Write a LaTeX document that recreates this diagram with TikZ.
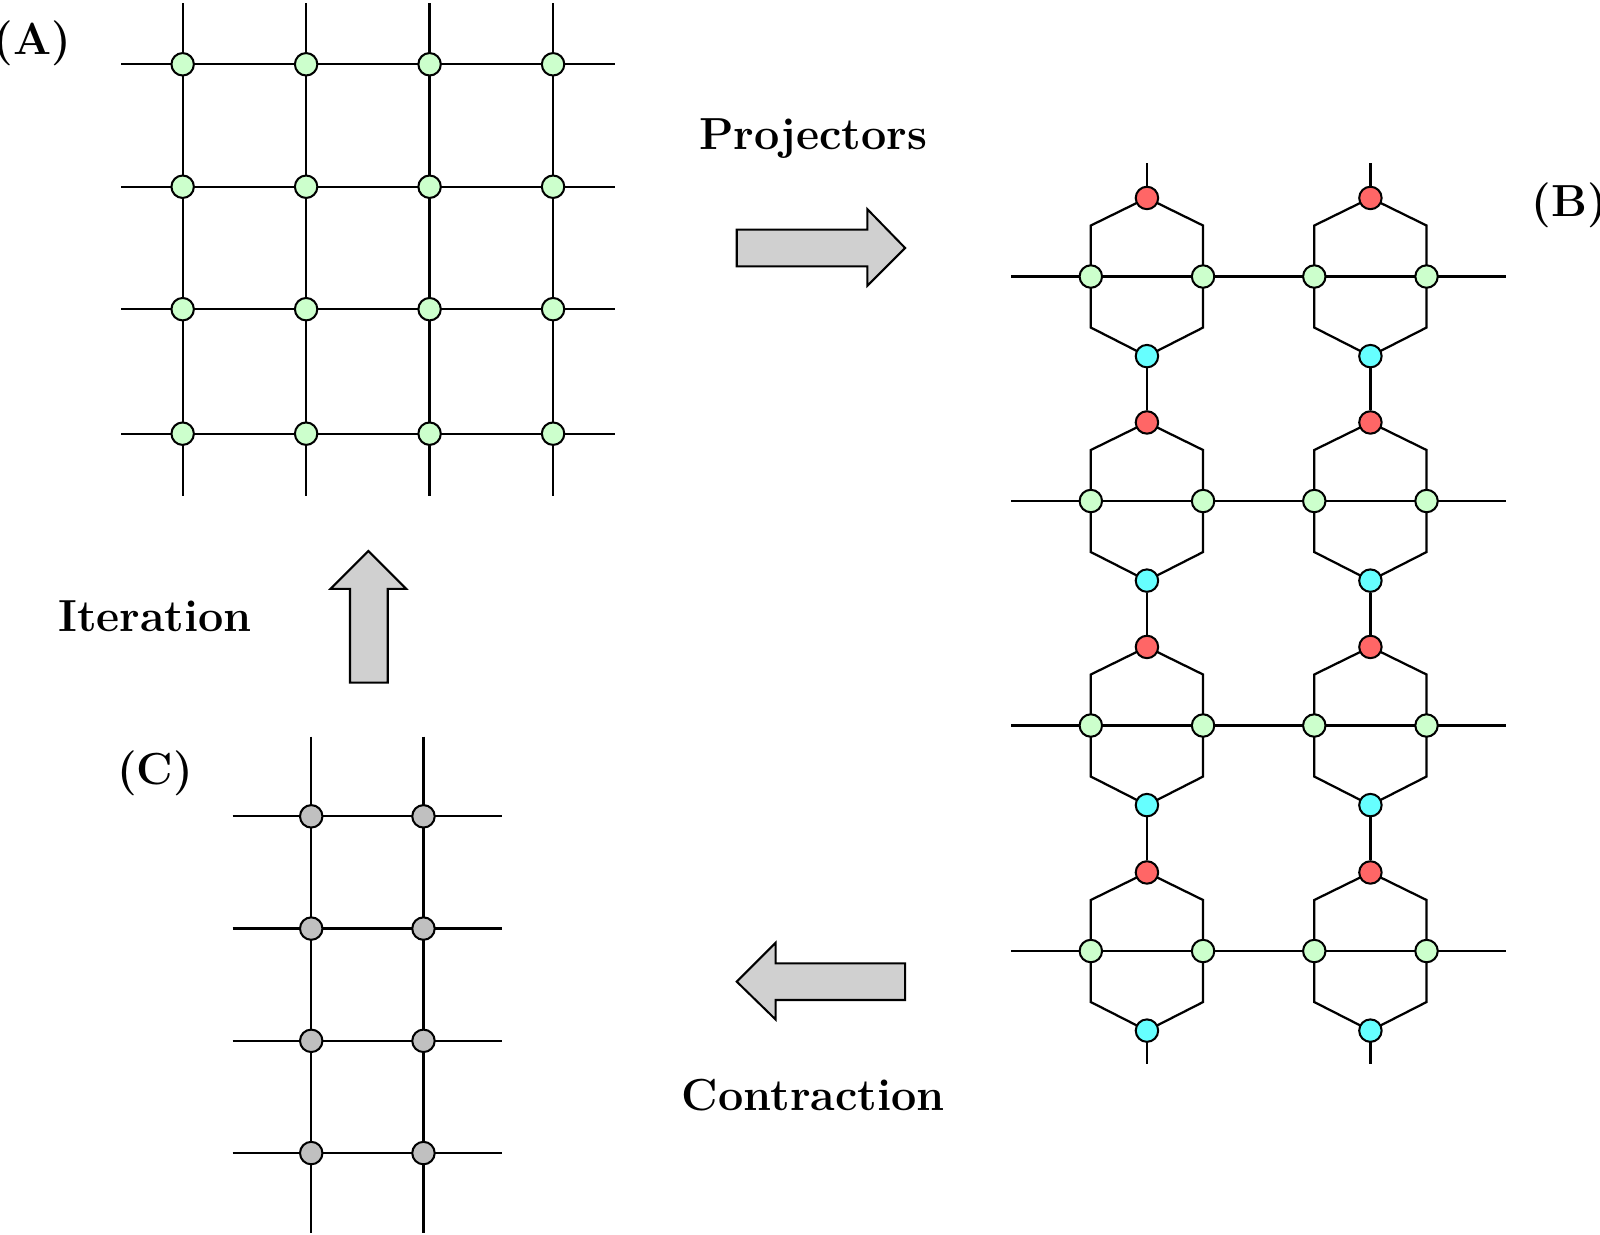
\documentclass[tikz,border=0pt]{standalone}
\definecolor{gn}{HTML}{CCFFCC}
\definecolor{rd}{HTML}{FF6666}
\definecolor{cy}{HTML}{66FFFF}
\definecolor{gy}{HTML}{C0C0C0}
\definecolor{ar}{HTML}{D0D0D0}
\begin{document}
\begin{tikzpicture}[x=1pt,y=-1pt,
 ln/.style={line width=2.2pt,black},
 dot/.style={circle,draw=black,line width=2pt,minimum size=22pt,inner sep=0pt},
 g/.style={dot,fill=gn},
 r/.style={dot,fill=rd},
 c/.style={dot,fill=cy},
 k/.style={dot,fill=gy},
 lab/.style={font=\fontsize{44}{48}\selectfont\bfseries,inner sep=0pt},
 bigarrow/.style={draw=black,line width=2pt,fill=ar}]
\useasboundingbox (0,0) rectangle (1568,1210);
% (A)
\foreach \x in {179,300,421,542} \draw[ln] (\x,3) -- (\x,486);
\foreach \y in {63,183,303,425} \draw[ln] (119,\y) -- (603,\y);
\foreach[count=\i] \x in {179,300,421,542} \foreach[count=\j] \y in {63,183,303,425} \node[g] (a\i\j) at (\x,\y) {};
% (B)
\foreach[count=\j] \y in {271,491,711,932} \draw[ln] (991,\y) -- (1476,\y);
\foreach[count=\i] \x in {1124,1343} {
 \draw[ln] (\x,160) -- (\x,194);
 \draw[ln] (\x,1008) -- (\x,1043);
 \foreach[count=\j] \y in {271,491,711,932} {
  \draw[ln] (\x,\y-77) -- (\x-55,\y-50) -- (\x-55,\y+50) -- (\x,\y+78) -- (\x+55,\y+50) -- (\x+55,\y-50) -- cycle;
  \node[r] (br\i\j) at (\x,\y-77) {};
  \node[c] (bc\i\j) at (\x,\y+78) {};
  \node[g] (bl\i\j) at (\x-55,\y) {};
  \node[g] (bg\i\j) at (\x+55,\y) {};
 }
 \foreach \j [evaluate=\j as \n using int(\j+1)] in {1,2,3} \draw[ln] (bc\i\j) -- (br\i\n);
}
% (C)
\foreach \x in {305,415} \draw[ln] (\x,722) -- (\x,1208);
\foreach \y in {800,910,1020,1130} \draw[ln] (228,\y) -- (492,\y);
\foreach[count=\i] \x in {305,415} \foreach[count=\j] \y in {800,910,1020,1130} \node[k] (c\i\j) at (\x,\y) {};
% arrows
\draw[bigarrow] (722,225) -- (850,225) -- (850,205) -- (887,243) -- (850,280) -- (850,261) -- (722,261) -- cycle;
\draw[bigarrow] (887,944) -- (760,944) -- (760,924) -- (722,962) -- (760,999) -- (760,980) -- (887,980) -- cycle;
\draw[bigarrow] (343,669) -- (343,577) -- (324,577) -- (361,540) -- (398,577) -- (380,577) -- (380,669) -- cycle;
% labels
\node[lab] (tA) at (32,42) {(A)};
\node[lab] (tB) at (1538,201) {(B)};
\node[lab] (tC) at (152,758) {(C)};
\node[lab] (tP) at (797,136) {Projectors};
\node[lab] (tI) at (152,604) {Iteration};
\node[lab] (tK) at (797,1073) {Contraction};
\end{tikzpicture}
\end{document}
